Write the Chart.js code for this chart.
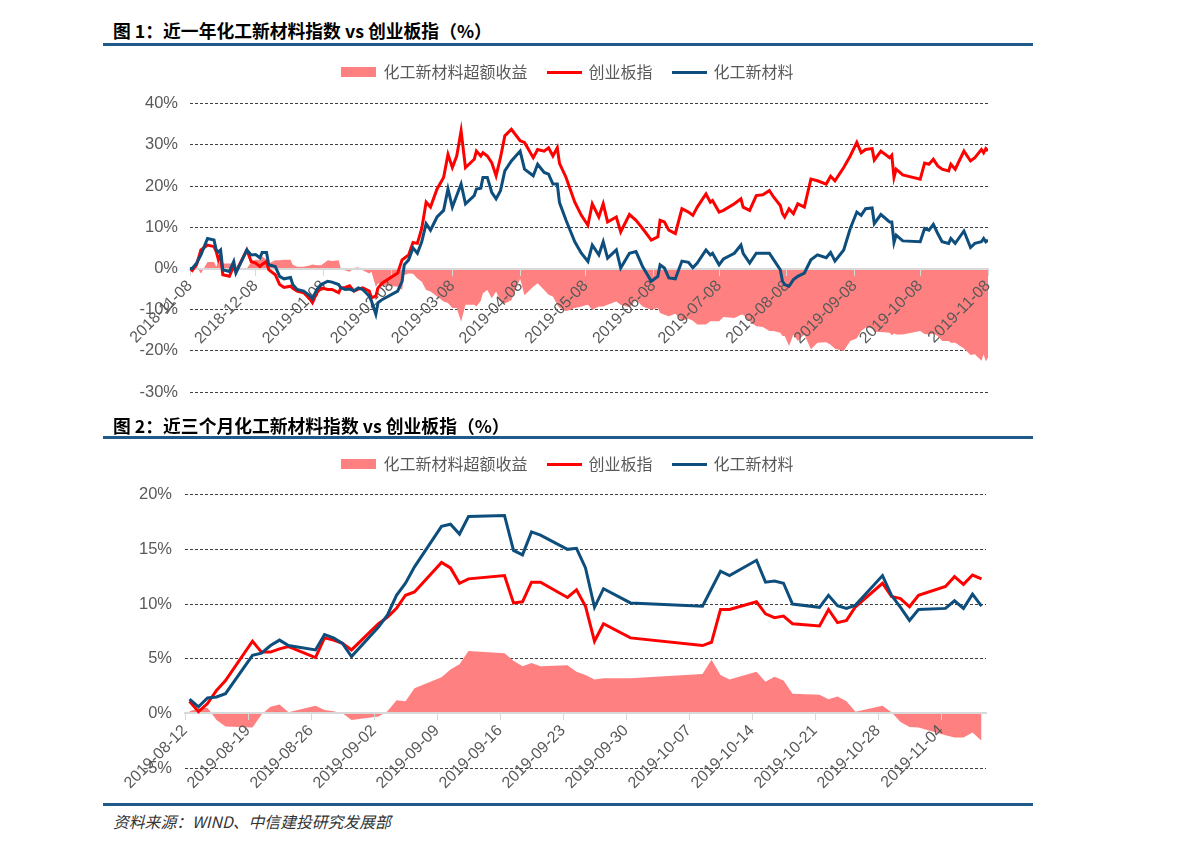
<!DOCTYPE html>
<html>
<head>
<meta charset="utf-8">
<script src="https://cdn.jsdelivr.net/npm/chart.js@4.4.0/dist/chart.umd.min.js"></script>
<style>
body { margin: 0; background: #fff; width: 1191px; height: 851px; position: relative; overflow: hidden; font-family: "Noto Sans CJK SC", sans-serif; }
.title { position: absolute; left: 113px; font-size: 17.8px; line-height: 22px; font-weight: bold; color: #000; }
.rule { position: absolute; left: 103px; width: 930px; height: 3px; background: #1f5a8a; }
.box { position: absolute; left: 103px; width: 930px; height: 370px; }
.src { position: absolute; left: 113px; top: 811px; font-size: 15.8px; line-height: 22px; font-style: italic; color: #333; }
</style>
</head>
<body>
<div class="title" style="top:19px">图 1：近一年化工新材料指数 vs 创业板指（%）</div>
<div class="rule" style="top:43px"></div>
<div class="box" style="top:44px"><canvas id="c1"></canvas></div>
<div class="title" style="top:414px">图 2：近三个月化工新材料指数 vs 创业板指（%）</div>
<div class="rule" style="top:436px"></div>
<div class="box" style="top:436px"><canvas id="c2"></canvas></div>
<div class="rule" style="top:803px"></div>
<div class="src">资料来源：WIND、中信建投研究发展部</div>
<script>
// chart 1: last year
var ticks1 = ['2018-11-08','2018-12-08','2019-01-08','2019-02-08','2019-03-08','2019-04-08','2019-05-08',
    '2019-06-08','2019-07-08','2019-08-08','2019-09-08','2019-10-08','2019-11-08'];
var dates1 = ['2018-11-08','2018-11-09','2018-11-11','2018-11-13','2018-11-16','2018-11-19','2018-11-20','2018-11-21','2018-11-22','2018-11-23','2018-11-26','2018-11-28','2018-11-29',
    '2018-12-04','2018-12-06','2018-12-08','2018-12-10','2018-12-11','2018-12-13','2018-12-14','2018-12-17','2018-12-19','2018-12-21','2018-12-24','2018-12-25','2018-12-27','2018-12-30',
    '2019-01-02','2019-01-03','2019-01-05','2019-01-07','2019-01-10','2019-01-12','2019-01-15','2019-01-16','2019-01-18','2019-01-20','2019-01-22','2019-01-24','2019-01-26','2019-01-29','2019-01-30',
    '2019-02-01','2019-02-02','2019-02-04','2019-02-11','2019-02-13','2019-02-14','2019-02-16','2019-02-18','2019-02-20','2019-02-22','2019-02-24','2019-02-26',
    '2019-03-01','2019-03-04','2019-03-06','2019-03-08','2019-03-10','2019-03-12','2019-03-14','2019-03-18','2019-03-19','2019-03-21','2019-03-22','2019-03-24','2019-03-26','2019-03-28','2019-03-30',
    '2019-04-01','2019-04-04','2019-04-08','2019-04-10','2019-04-14','2019-04-16','2019-04-19','2019-04-21','2019-04-23','2019-04-25','2019-04-26','2019-04-29',
    '2019-05-03','2019-05-06','2019-05-09','2019-05-11','2019-05-14','2019-05-16','2019-05-18','2019-05-22','2019-05-24','2019-05-28','2019-05-31',
    '2019-06-03','2019-06-07','2019-06-10','2019-06-11','2019-06-13','2019-06-15','2019-06-18','2019-06-21','2019-06-24','2019-06-26','2019-06-28',
    '2019-07-02','2019-07-04','2019-07-05','2019-07-08','2019-07-10','2019-07-15','2019-07-18','2019-07-19','2019-07-22','2019-07-25','2019-07-28','2019-07-31',
    '2019-08-02','2019-08-05','2019-08-06','2019-08-07','2019-08-09','2019-08-11','2019-08-13','2019-08-16','2019-08-19','2019-08-22','2019-08-26','2019-08-28','2019-08-30',
    '2019-09-03','2019-09-06','2019-09-09','2019-09-11','2019-09-13','2019-09-16','2019-09-17','2019-09-20','2019-09-24','2019-09-25','2019-09-26','2019-09-27','2019-09-30',
    '2019-10-08','2019-10-10','2019-10-12','2019-10-14','2019-10-16','2019-10-18','2019-10-21','2019-10-22','2019-10-24','2019-10-28','2019-10-31',
    '2019-11-02','2019-11-05','2019-11-06','2019-11-07','2019-11-08'];
var cyb1 = [0, -0.5, 0.9, 4.5, 5.7, 5.3, 4.1, 2.1, 3.3, -1.5, -1.9, 0.5, -0.8,
    4.5, 1.7, 1.3, 0.5, 1.0, 1.7, -0.3, -1.5, -3.9, -4.6, -4.3, -4.8, -5.5, -5.9,
    -7.5, -8.3, -5.9, -4.7, -5.1, -5.1, -5.9, -4.7, -4.6, -4.2, -5.5, -5.0, -4.7, -5.5, -7.1,
    -6.7, -4.7, -3.5, -1.1, 2.1, 2.5, 3.3, 6.3, 6.1, 9.7, 16.1, 14.9,
    19.3, 22.1, 27.7, 24.5, 27.3, 33.4, 24.5, 26.5, 28.5, 27.3, 28.1, 27.3, 25.7, 22.5, 26.9,
    32.2, 33.8, 31.0, 30.6, 26.9, 28.9, 28.5, 29.3, 27.3, 29.3, 25.5, 22.1,
    16.1, 12.9, 10.5, 15.7, 12.5, 15.7, 11.3, 12.5, 8.9, 13.1, 11.7,
    9.7, 6.9, 7.7, 11.7, 11.3, 9.3, 8.5, 14.5, 13.7, 12.9, 14.9,
    18.1, 16.1, 16.5, 13.7, 14.1, 15.7, 16.9, 14.9, 14.1, 17.7, 17.9, 18.9,
    17.3, 15.3, 13.3, 12.5, 14.5, 13.3, 15.7, 14.9, 21.7, 21.3, 20.5, 22.4, 21.3,
    24.5, 27.3, 30.6, 28.1, 28.9, 29.1, 26.3, 28.5, 26.9, 27.5, 22.1, 24.1, 22.7,
    21.7, 25.6, 25.3, 26.5, 24.9, 24.1, 23.7, 25.3, 24.1, 28.5, 26.1,
    26.9, 28.9, 28.1, 29.1, 28.5];
var hg1 = [0, 0, 1.3, 3.3, 7.3, 6.9, 4.5, 4.0, 4.5, -0.3, -0.7, 1.7, -1.1,
    4.5, 3.3, 3.4, 2.6, 3.9, 3.9, 0.9, 0.5, -1.9, -2.5, -2.2, -3.9, -5.1, -5.5,
    -6.7, -7.3, -5.1, -3.9, -3.1, -3.3, -3.9, -4.7, -5.1, -5.0, -5.4, -4.7, -5.1, -6.7, -7.9,
    -11.1, -8.3, -7.5, -5.5, -3.1, 0.9, 2.1, 5.0, 3.7, 6.5, 10.9, 9.3,
    12.5, 14.1, 19.3, 14.9, 17.7, 20.5, 15.7, 17.7, 19.3, 19.5, 22.1, 22.1, 18.5, 16.9, 18.9,
    23.7, 26.1, 28.5, 24.1, 22.5, 25.3, 23.3, 22.9, 20.5, 20.5, 16.0, 11.7,
    6.5, 3.7, 1.7, 5.7, 3.3, 6.5, 2.5, 4.5, 0.1, 3.7, 4.1,
    0.5, -3.1, -1.9, 0.9, 0.1, -2.3, -2.5, 1.8, 1.5, 0.2, 1.3,
    4.5, 3.3, 3.7, 0.9, 2.3, 3.7, 5.7, 3.7, 1.3, 3.7, 3.7, 3.7,
    2.1, -0.3, -3.1, -3.9, -4.3, -2.7, -1.9, -1.1, 2.1, 3.3, 2.6, 3.9, 1.8,
    4.5, 9.7, 13.7, 12.9, 14.5, 14.7, 10.9, 13.1, 11.3, 11.3, 6.3, 8.1, 6.7,
    6.5, 9.7, 9.3, 10.7, 8.5, 6.5, 6.1, 7.3, 6.1, 9.1, 5.1,
    6.1, 6.5, 7.3, 6.5, 6.9];

// chart 2: last three months
var ticks2 = ['2019-08-12','2019-08-19','2019-08-26','2019-09-02','2019-09-09','2019-09-16','2019-09-23',
    '2019-09-30','2019-10-07','2019-10-14','2019-10-21','2019-10-28','2019-11-04'];
var dates2 = ['2019-08-12','2019-08-13','2019-08-14','2019-08-15','2019-08-16','2019-08-19','2019-08-20','2019-08-21','2019-08-22','2019-08-23',
    '2019-08-26','2019-08-27','2019-08-28','2019-08-29','2019-08-30','2019-09-02','2019-09-03','2019-09-04','2019-09-05','2019-09-06',
    '2019-09-09','2019-09-10','2019-09-11','2019-09-12','2019-09-16','2019-09-17','2019-09-18','2019-09-19','2019-09-20',
    '2019-09-23','2019-09-24','2019-09-25','2019-09-26','2019-09-27','2019-09-30',
    '2019-10-08','2019-10-09','2019-10-10','2019-10-11','2019-10-14','2019-10-15','2019-10-16','2019-10-17','2019-10-18',
    '2019-10-21','2019-10-22','2019-10-23','2019-10-24','2019-10-25','2019-10-28','2019-10-29','2019-10-30','2019-10-31','2019-11-01',
    '2019-11-04','2019-11-05','2019-11-06','2019-11-07','2019-11-08'];
var cyb2 = [1.1, 0.15, 0.9, 2.1, 3.0, 6.6, 5.6, 5.6, 5.9, 6.1,
    5.1, 6.9, 6.7, 6.4, 5.8, 8.2, 8.8, 9.6, 10.8, 11.1,
    13.8, 13.3, 11.9, 12.3, 12.6, 10.1, 10.2, 12.0, 12.0,
    10.6, 11.3, 9.8, 6.6, 8.2, 6.9,
    6.2, 6.5, 9.5, 9.5, 10.2, 9.1, 8.75, 8.9, 8.2,
    8.0, 9.5, 8.3, 8.5, 9.75, 11.9, 10.7, 10.5, 9.75, 10.8,
    11.6, 12.5, 11.8, 12.65, 12.3];
var hg2 = [1.3, 0.6, 1.4, 1.5, 1.8, 5.3, 5.5, 6.2, 6.7, 6.2,
    5.8, 7.2, 6.9, 6.4, 5.2, 7.9, 9.0, 10.8, 11.9, 13.4,
    17.1, 17.3, 16.4, 18.0, 18.1, 14.9, 14.5, 16.6, 16.3,
    15.0, 15.1, 13.3, 9.7, 11.4, 10.1,
    9.8, 11.4, 13.0, 12.6, 14.0, 12.0, 12.1, 11.9, 10.0,
    9.7, 10.8, 9.85, 9.6, 9.9, 12.6, 10.8, 9.7, 8.5, 9.5,
    9.6, 10.3, 9.6, 10.9, 9.8];

var RED = '#ff0000', BLUE = '#0d4e7c', PINK = '#ff8080', GREY = '#595959';

function dayNo(s) {
    return Date.UTC(+s.slice(0, 4), +s.slice(5, 7) - 1, +s.slice(8, 10)) / 86400000;
}

function swatch(w, h, color) {
    var c = document.createElement('canvas');
    c.width = w; c.height = h;
    var g = c.getContext('2d');
    g.fillStyle = color;
    g.fillRect(0, 0, w, h);
    return c;
}

// the date axis sits on the 0 line: draw it after the excess area but before the two lines
var axisOverArea = {
    id: 'axisOverArea',
    beforeLayout: function(chart) {
        var sc = chart.scales.x;
        if (sc && !sc.hasOwnProperty('draw')) sc.draw = function() {};
    },
    afterDatasetDraw: function(chart, args) {
        if (args.index === 2) Chart.Scale.prototype.draw.call(chart.scales.x, chart.chartArea);
    }
};

function makeChart(id, s) {
    var d0 = dayNo(s.ticks[0]);
    var pts = function(vals) {
        return s.dates.map(function(d, i) { return {x: dayNo(d) - d0 + s.shift, y: vals[i]}; });
    };
    var excess = s.hg.map(function(v, i) { return +(v - s.cyb[i]).toFixed(2); });
    var tickDays = s.ticks.map(function(t) { return dayNo(t) - d0; });

    new Chart(document.getElementById(id), {
        type: 'line',
        plugins: [axisOverArea],
        data: {
            datasets: [
                {label: '化工新材料', data: pts(s.hg), borderColor: BLUE, borderWidth: 3, pointRadius: 0, fill: false},
                {label: '创业板指', data: pts(s.cyb), borderColor: RED, borderWidth: 3, pointRadius: 0, fill: false},
                {label: '化工新材料超额收益', data: pts(excess), borderColor: 'rgba(0,0,0,0)', borderWidth: 0,
                    backgroundColor: PINK, pointRadius: 0, fill: 'origin'}
            ]
        },
        options: {
            responsive: true,
            maintainAspectRatio: false,
            animation: false,
            layout: {padding: {left: 0, right: 0, top: 0, bottom: s.bottom}},
            plugins: {
                tooltip: {enabled: false},
                title: {display: true, text: '', weight: 500, font: {size: 1}, padding: {top: s.gap, bottom: 0}},
                legend: {
                    position: 'top',
                    labels: {
                        usePointStyle: true,
                        pointStyleWidth: 33,
                        padding: 20,
                        color: GREY,
                        font: {family: 'Noto Sans CJK SC', size: 16},
                        generateLabels: function() {
                            return [
                                {text: '化工新材料超额收益', pointStyle: swatch(35, 10, PINK), fontColor: GREY, datasetIndex: 2},
                                {text: '创业板指', pointStyle: swatch(35, 3, RED), fontColor: GREY, datasetIndex: 1},
                                {text: '化工新材料', pointStyle: swatch(35, 3, BLUE), fontColor: GREY, datasetIndex: 0}
                            ];
                        }
                    }
                }
            },
            scales: {
                x: {
                    type: 'linear',
                    min: 0,
                    max: s.xMax,
                    position: {y: 0},
                    afterBuildTicks: function(sc) { sc.ticks = tickDays.map(function(v) { return {value: v}; }); },
                    ticks: {
                        autoSkip: false, minRotation: 45, maxRotation: 45, padding: 2, color: GREY,
                        font: {family: 'Liberation Sans', size: 16},
                        callback: function(v, i) { return s.ticks[i]; }
                    },
                    grid: {display: true, drawOnChartArea: false, drawTicks: true, tickLength: 6, color: '#d9d9d9'},
                    border: {display: true, color: '#d9d9d9', width: 2}
                },
                y: {
                    min: s.yMin,
                    max: s.yMax,
                    afterFit: function(sc) { sc.width = s.axisW; },
                    ticks: {
                        stepSize: s.step, padding: s.tickPad, color: GREY,
                        font: {family: 'Liberation Sans', size: 16.5},
                        callback: function(v) { return v + '%'; }
                    },
                    grid: {
                        drawTicks: false, lineWidth: 1,
                        color: function(c) { return Math.abs(c.tick.value) < 1e-9 ? 'rgba(0,0,0,0)' : '#404040'; }
                    },
                    border: {display: false, dash: [3, 2]}
                },
                // empty right margin so the legend stays centred on the page
                yRight: {
                    position: 'right',
                    ticks: {display: false},
                    grid: {display: false},
                    border: {display: false},
                    afterFit: function(sc) { sc.width = s.rightW; }
                }
            }
        }
    });
}

makeChart('c1', {ticks: ticks1, dates: dates1, cyb: cyb1, hg: hg1, shift: 0, xMax: 365,
    yMin: -30, yMax: 40, step: 10, axisW: 87, rightW: 45, bottom: 19, gap: 12.5, tickPad: 12});
makeChart('c2', {ticks: ticks2, dates: dates2, cyb: cyb2, hg: hg2, shift: 0.5, xMax: 89,
    yMin: -5, yMax: 20, step: 5, axisW: 82, rightW: 47, bottom: 38, gap: 11.5, tickPad: 13});
</script>
</body>
</html>
